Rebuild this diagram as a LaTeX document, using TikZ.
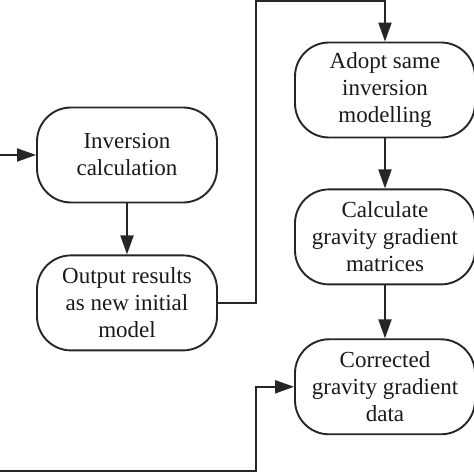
\documentclass[tikz,border=0pt]{standalone}
\usepackage{fontspec}
\setmainfont{Liberation Serif}
\usetikzlibrary{positioning,arrows.meta}

\begin{document}
\begin{tikzpicture}[
    x=1pt, y=1pt,
    node distance=51pt,
    stepbox/.style={draw=black!85, line width=1.9pt, rounded corners=34pt, align=center,
        minimum width=180pt, minimum height=95pt, inner sep=0pt,
        font=\fontsize{23}{27}\selectfont, text=black!90},
    arrow/.style={-{Triangle[length=19pt, width=13pt]}, line width=2pt, draw=black!85}
]
\useasboundingbox (0,0) rectangle (474,474);
% left column
\node[stepbox] (inv) at (127,319) {Inversion\\calculation};
\node[stepbox, below=of inv] (out) {Output results\\as new initial\\model};
% right column
\node[stepbox] (adopt) at (385,384) {Adopt same\\inversion\\modelling};
\node[stepbox, below=50pt of adopt] (calc) {Calculate\\gravity gradient\\matrices};
\node[stepbox, below=53pt of calc] (corr) {Corrected\\gravity gradient\\data};

\coordinate (leftin) at (0,319);
\coordinate (topturn) at (256,473);
\coordinate (botin) at (0,3);
\coordinate (botturn) at (256,3);

\draw[arrow] (leftin) -- (inv.west);
\draw[arrow] (inv) -- (out);
\draw[arrow] (out.east) -| (topturn) -| (adopt.north);
\draw[arrow] (adopt) -- (calc);
\draw[arrow] (calc) -- (corr);
\draw[arrow] (botin) -- (botturn) |- (corr.west);
\end{tikzpicture}
\end{document}
